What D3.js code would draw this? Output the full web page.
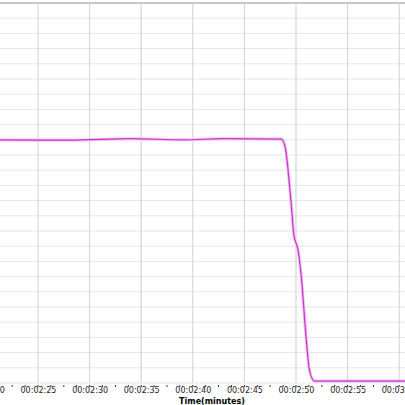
<!DOCTYPE html>
<html><head><meta charset="utf-8">
<script src="https://cdn.jsdelivr.net/npm/d3@7"></script>
<style>body{margin:0;background:#fff}</style></head>
<body><svg id="chart" width="405" height="405"></svg>
<script>
// time in seconds, value in percent of y-range
var times = [139, 146, 148, 154, 159, 163, 168.6, 169.0, 169.5, 169.8, 170.2, 170.5, 171.0, 171.3, 171.8, 175, 180.6];
var values = [64.0, 63.9, 63.9, 64.3, 64.0, 64.3, 64.2, 61.3, 48.2, 38.9, 35.0, 28.4, 11.3, 3.4, 0.5, 0.5, 0.5];
var tickLabels = ["00:02:20","00:02:25","00:02:30","00:02:35","00:02:40","00:02:45","00:02:50","00:02:55","00:03:00"];
var tickTimes = [140,145,150,155,160,165,170,175,180];

var svg = d3.select("#chart");
var xScale = d3.scaleLinear().domain([145, 170]).range([38, 296]);
var yScale = d3.scaleLinear().domain([0, 100]).range([383, 3]);

// horizontal grid
svg.append("g").selectAll("line").data(d3.range(0, 101, 4)).enter().append("line")
  .attr("x1", 0).attr("x2", 405)
  .attr("y1", function (d) { return yScale(d); }).attr("y2", function (d) { return yScale(d); })
  .attr("stroke", function (d) { return d == 100 ? "#c8c8c8" : "#e6e6e6"; })
  .attr("stroke-width", function (d) { return d == 100 ? 2 : 1; });
// vertical grid
svg.append("g").selectAll("line").data(tickTimes).enter().append("line")
  .attr("x1", function (d) { return xScale(d); }).attr("x2", function (d) { return xScale(d); })
  .attr("y1", 3).attr("y2", 383).attr("stroke", "#cfcfcf");

var xAxis = d3.axisBottom(xScale).tickValues(tickTimes)
  .tickFormat(function (d, i) { return tickLabels[i]; }).tickSize(0).tickPadding(4);
var ax = svg.append("g").attr("transform", "translate(0,383)").call(xAxis);
ax.select(".domain").remove();
ax.selectAll("text").attr("font-family", "DejaVu Sans").attr("font-size", 8).attr("fill", "#222");
// minor ticks
svg.append("g").selectAll("line").data(d3.range(138.75, 182, 1.25)).enter().append("line")
  .attr("x1", function (d) { return xScale(d); }).attr("x2", function (d) { return xScale(d); })
  .attr("y1", 385).attr("y2", 387).attr("stroke", "#333");

svg.append("text").attr("x", 212).attr("y", 404).attr("text-anchor", "middle")
  .attr("font-family", "DejaVu Sans").attr("font-weight", "bold").attr("font-size", 8)
  .text("Time(minutes)");

var data = times.map(function (t, i) { return { t: t, v: values[i] }; });
var line = d3.line().curve(d3.curveMonotoneX)
  .x(function (d) { return xScale(d.t); }).y(function (d) { return yScale(d.v); });
svg.append("path").attr("d", line(data)).attr("fill", "none")
  .attr("stroke", "#f0c0f0").attr("stroke-width", 3);
svg.append("path").attr("d", line(data)).attr("fill", "none")
  .attr("stroke", "#cc33cc").attr("stroke-width", 1.2);
</script></body></html>
